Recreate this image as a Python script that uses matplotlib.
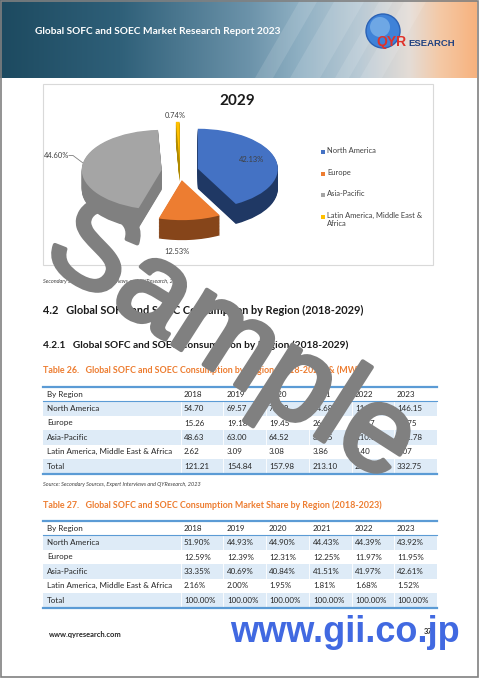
import matplotlib
matplotlib.use('Agg')
import matplotlib.pyplot as plt
import matplotlib.patheffects as pe
import numpy as np
from matplotlib.colors import to_rgb
from matplotlib.patches import Circle, Polygon, Rectangle

plt.rcParams['font.family'] = ['Lato', 'DejaVu Sans']

page_w, page_h = 480, 679

report_title = 'Global SOFC and SOEC Market Research Report 2023'
pie_year = '2029'
regions = ['North America', 'Europe', 'Asia-Pacific',
           'Latin America, Middle East & Africa']
legend_labels = ['North America', 'Europe', 'Asia-Pacific',
                 'Latin America, Middle East &\nAfrica']
share_2029 = [42.13, 12.53, 44.60, 0.74]
top_colors = ['#4472c4', '#ed7d31', '#a5a5a5', '#ffc000']
side_colors = ['#1f3864', '#86451a', '#808080', '#b08a00']

years = ['2018', '2019', '2020', '2021', '2022', '2023']
mw_north_america = [54.70, 69.57, 70.93, 94.68, 116.35, 146.15]
mw_europe = [15.26, 19.18, 19.45, 26.10, 31.37, 39.75]
mw_asia_pacific = [48.63, 63.00, 64.52, 88.45, 110.01, 141.78]
mw_latam_mea = [2.62, 3.09, 3.08, 3.86, 4.40, 5.07]
mw_total = [121.21, 154.84, 157.98, 213.10, 262.13, 332.75]

pct_north_america = [51.90, 44.93, 44.90, 44.43, 44.39, 43.92]
pct_europe = [12.59, 12.39, 12.31, 12.25, 11.97, 11.95]
pct_asia_pacific = [33.35, 40.69, 40.84, 41.51, 41.97, 42.61]
pct_latam_mea = [2.16, 2.00, 1.95, 1.81, 1.68, 1.52]
pct_total = [100.00, 100.00, 100.00, 100.00, 100.00, 100.00]

section_title = '4.2   Global SOFC and SOEC Consumption by Region (2018-2029)'
subsection_title = '4.2.1   Global SOFC and SOEC Consumption by Region (2018-2029)'
table26_title = 'Table 26.   Global SOFC and SOEC Consumption by Region (2018-2023) & (MW)'
table27_title = 'Table 27.   Global SOFC and SOEC Consumption Market Share by Region (2018-2023)'
chart_source = 'Secondary Sources, Expert Interviews and QYResearch, 2023'
table_source = 'Source: Secondary Sources, Expert Interviews and QYResearch, 2023'

text_dark = '#262626'
table_blue = '#5b9bd5'
row_shade = '#deebf7'
title_orange = '#ed7d31'


def px_axes(fig, left, top, width, height, **kw):
    return fig.add_axes([left / page_w, 1 - (top + height) / page_h,
                         width / page_w, height / page_h], **kw)


def draw_header(ax):
    stops_x = [0, 120, 250, 300, 360, 410, 440, 477]
    stops_c = ['#1d4a60', '#2f6079', '#6c93aa', '#8fb0c3', '#b9cad5',
               '#e4dcd6', '#f4c9a6', '#f7b27e']
    xs = np.linspace(0, 477, 400)
    rgb = np.array([to_rgb(c) for c in stops_c])
    grad = np.stack([np.interp(xs, stops_x, rgb[:, i]) for i in range(3)], axis=-1)
    ax.imshow(grad[np.newaxis, :, :], extent=[0, 477, 78, 0], aspect='auto',
              interpolation='bilinear', zorder=1)
    for x_top, w in [(300, 18), (335, 30), (380, 14), (405, 22)]:
        ax.add_patch(Polygon([(x_top, 0), (x_top + w, 0), (x_top + w - 45, 78),
                              (x_top - 45, 78)], closed=True, facecolor='white',
                             alpha=0.12, linewidth=0, zorder=2))
    ax.text(35, 31, report_title, color='white', fontsize=7.3,
            fontweight='bold', va='center', ha='left', zorder=3)
    # logo
    ax.add_patch(Circle((383, 31), 17, facecolor='#3f82d8', edgecolor='#2b62b5',
                        linewidth=1.0, zorder=3))
    ax.add_patch(Circle((380, 27), 10, facecolor='#8ec1ee', alpha=0.6,
                        linewidth=0, zorder=3))
    ax.text(376, 42, 'QYR', color='#e0322a', fontsize=10, fontweight='bold',
            family=['Liberation Sans'], va='center', ha='left', zorder=4)
    ax.text(408, 43, 'ESEARCH', color='#1f4180', fontsize=6.8, fontweight='bold',
            family=['Liberation Sans'], va='center', ha='left', zorder=4)


def draw_table(ax, top, rows, fmt):
    row_h = 14.4
    x0, x1 = 43, 437
    col_x = [47, 184, 227, 269, 313, 355, 397]
    seps = [181, 223, 266, 309, 352, 394]
    n = len(rows) + 1
    for i in range(1, n):
        if i % 2 == 1:
            ax.add_patch(Rectangle((x0, top + i * row_h), x1 - x0, row_h,
                                   facecolor=row_shade, linewidth=0, zorder=1))
            for sx in seps:
                ax.plot([sx, sx], [top + i * row_h, top + (i + 1) * row_h],
                        color='white', linewidth=0.6, zorder=1.5)
    ax.text(col_x[0], top + row_h / 2, 'By Region', fontsize=5.8,
            color=text_dark, va='center', ha='left', zorder=2)
    for j, yr in enumerate(years):
        ax.text(col_x[j + 1], top + row_h / 2, yr, fontsize=5.8,
                color=text_dark, va='center', ha='left', zorder=2)
    for i, (name, vals) in enumerate(rows):
        yc = top + (i + 1.5) * row_h
        ax.text(col_x[0], yc, name, fontsize=5.8, color=text_dark,
                va='center', ha='left', zorder=2)
        for j, v in enumerate(vals):
            ax.text(col_x[j + 1], yc, fmt.format(v), fontsize=5.8,
                    color=text_dark, va='center', ha='left', zorder=2)
    ax.plot([x0, x1], [top, top], color=table_blue, linewidth=1.6, zorder=3)
    ax.plot([x0, x1], [top + row_h, top + row_h], color=table_blue,
            linewidth=0.8, zorder=3)
    ax.plot([x0, x1], [top + n * row_h + 0.8, top + n * row_h + 0.8],
            color=table_blue, linewidth=1.6, zorder=3)


fig = plt.figure(figsize=(4.8, 6.79), dpi=100)

page = px_axes(fig, 0, 0, page_w, page_h)
page.set_axis_off()
draw_header(page)

# chart frame
page.add_patch(Rectangle((43, 84), 390, 181, facecolor='white',
                         edgecolor='#d9d9d9', linewidth=0.8, zorder=1))
page.text(237, 101, pie_year, fontsize=11, fontweight='bold', color='#1a1a1a',
          ha='center', va='center', zorder=2)

# legend
legend_y = [152, 174, 195, 217]
for lab, col, ly in zip(legend_labels, top_colors, legend_y):
    page.add_patch(Rectangle((321, ly - 2.2), 4.4, 4.4, facecolor=col,
                             linewidth=0, zorder=2))
    page.text(327, ly - 4.6, lab, fontsize=5.4, color='#404040', ha='left',
              va='top', linespacing=1.05, zorder=2)

page.plot([69, 73, 83], [155.5, 155.5, 163], color='#808080', linewidth=0.6,
          zorder=2)

page.text(43, 281, chart_source, fontsize=4.0, style='italic', color='#404040',
          ha='left', va='center')
page.text(43, 310, section_title, fontsize=7.9, fontweight='bold',
          color='#1a1a1a', ha='left', va='center')
page.text(43, 345, subsection_title, fontsize=7.3, fontweight='bold',
          color='#1a1a1a', ha='left', va='center')
page.text(43, 370, table26_title, fontsize=6.4, fontweight='bold',
          color=title_orange, ha='left', va='center')

draw_table(page, 387, [
    (regions[0], mw_north_america), (regions[1], mw_europe),
    (regions[2], mw_asia_pacific), (regions[3], mw_latam_mea),
    ('Total', mw_total)], '{:.2f}')

page.text(43, 484, table_source, fontsize=4.0, style='italic', color='#404040',
          ha='left', va='center')
page.text(43, 505, table27_title, fontsize=6.4, fontweight='bold',
          color=title_orange, ha='left', va='center')

draw_table(page, 521, [
    (regions[0], pct_north_america), (regions[1], pct_europe),
    (regions[2], pct_asia_pacific), (regions[3], pct_latam_mea),
    ('Total', pct_total)], '{:.2f}%')

page.text(49, 635, 'www.qyresearch.com', fontsize=5.4, fontweight='bold',
          color=text_dark, ha='left', va='center')
page.text(424, 631, '37', fontsize=5.4, fontweight='bold', color=text_dark,
          ha='left', va='center')

page.add_patch(Rectangle((1, 0.5), 477, 676.5, facecolor='none',
                         edgecolor='#808080', linewidth=1.2, zorder=10))
page.set_xlim(0, page_w)
page.set_ylim(page_h, 0)

# 3D-looking exploded pie
cx, cy, rx, ry = 180, 171, 80, 40
pie_ax = px_axes(fig, cx - 1.3 * rx, cy - 1.6 * ry, 2.6 * rx, 3.5 * ry)
pie_ax.patch.set_alpha(0)
explode = [0.23] * len(share_2029)
depth = 0.5
layers = 26
for k in range(layers, 0, -1):
    pie_ax.pie(share_2029, colors=side_colors, explode=explode, startangle=90,
               counterclock=False, center=(0, -depth * k / layers),
               wedgeprops=dict(linewidth=0))
pie_ax.pie(share_2029, colors=top_colors, explode=explode, startangle=90,
           counterclock=False, wedgeprops=dict(linewidth=0))
pie_ax.set_aspect('auto')
pie_ax.set_xlim(-1.3, 1.3)
pie_ax.set_ylim(-1.9, 1.6)
pie_ax.set_axis_off()

# overlay: data labels and watermarks
over = px_axes(fig, 0, 0, page_w, page_h)
over.patch.set_alpha(0)
over.set_axis_off()
over.set_xlim(0, page_w)
over.set_ylim(page_h, 0)

label_pos = [(252, 160), (177, 251), (57, 155), (175, 116)]
for v, (lx, ly) in zip(share_2029, label_pos):
    over.text(lx, ly, f'{v:.2f}%', fontsize=5.4, color='#404040',
              ha='center', va='center')

over.text(231, 344, 'Sample', fontsize=88, color='#808080',
          family=['Liberation Sans'], rotation=-32.7, rotation_mode='anchor',
          ha='center', va='center',
          path_effects=[pe.withStroke(linewidth=3, foreground='#808080')])
over.text(230, 642, 'www.gii.co.jp', fontsize=26, fontweight='bold',
          color='#4169e1', family=['Liberation Sans'],
          ha='left', va='baseline')

fig.savefig('out.png', dpi=100)
